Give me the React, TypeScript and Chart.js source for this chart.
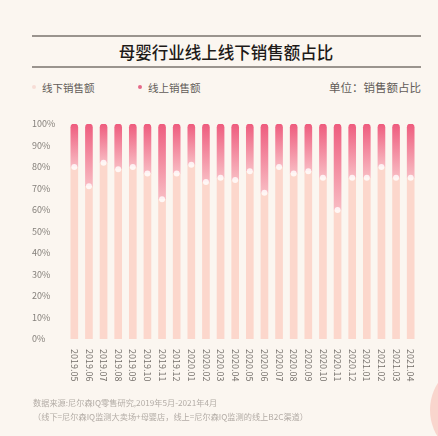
import React, { useEffect, useRef } from "react";
import { Chart, registerables } from "chart.js";

Chart.register(...registerables);

// Months covered by the series
const months = [
  "2019.05", "2019.06", "2019.07", "2019.08", "2019.09", "2019.10",
  "2019.11", "2019.12", "2020.01", "2020.02", "2020.03", "2020.04",
  "2020.05", "2020.06", "2020.07", "2020.08", "2020.09", "2020.10",
  "2020.11", "2020.12", "2021.01", "2021.02", "2021.03", "2021.04",
];

// Offline share of sales (%)
const offlineShare = [
  80, 71, 82, 79, 80, 77, 65, 77, 81, 73, 75, 74,
  78, 68, 80, 77, 78, 75, 60, 75, 75, 80, 75, 75,
];

// Online share of sales (%)
const onlineShare = [
  20, 29, 18, 21, 20, 23, 35, 23, 19, 27, 25, 26,
  22, 32, 20, 23, 22, 25, 40, 25, 25, 20, 25, 25,
];

const yTicks = [0, 10, 20, 30, 40, 50, 60, 70, 80, 90, 100];

const CJK = '"Noto Sans CJK SC", "Noto Sans", sans-serif';

const xLabelPlugin = {
  id: "verticalMonthLabels",
  afterDraw(chart: any) {
    const { ctx, scales } = chart;
    const xs = scales.x;
    ctx.save();
    ctx.fillStyle = "#75706b";
    ctx.font = `9px ${CJK}`;
    ctx.textAlign = "left";
    ctx.textBaseline = "middle";
    months.forEach((m, i) => {
      const x = xs.getPixelForValue(i);
      ctx.save();
      ctx.translate(x, 349);
      ctx.rotate(Math.PI / 2);
      ctx.fillText(m, 0, 0);
      ctx.restore();
    });
    ctx.restore();
  },
};

function ChartCanvas() {
  const ref = useRef<HTMLCanvasElement | null>(null);

  useEffect(() => {
    if (!ref.current) return;
    const chart = new Chart(ref.current, {
      type: "bar",
      data: {
        labels: months,
        datasets: [
          {
            type: "line",
            label: "dots",
            data: offlineShare,
            stack: "dots",
            showLine: false,
            pointRadius: 3,
            pointHoverRadius: 3,
            pointBorderWidth: 0,
            pointBackgroundColor: "rgba(255,255,255,0.8)",
            order: 0,
          } as any,
          {
            label: "线下销售额",
            data: offlineShare,
            stack: "share",
            backgroundColor: "#fcd7cc",
            barThickness: 7,
            borderRadius: 0,
            order: 1,
          },
          {
            label: "线上销售额",
            data: onlineShare,
            stack: "share",
            barThickness: 7,
            borderSkipped: "bottom",
            borderRadius: { topLeft: 3.5, topRight: 3.5, bottomLeft: 0, bottomRight: 0 },
            backgroundColor: (c: any) => {
              const ch = c.chart;
              if (!ch.chartArea || c.dataIndex === undefined) return "#f27592";
              const ys = ch.scales.y;
              const top = ys.getPixelForValue(100);
              const bottom = ys.getPixelForValue(offlineShare[c.dataIndex]);
              const g = ch.ctx.createLinearGradient(0, top, 0, bottom);
              g.addColorStop(0, "#ee5c7e");
              g.addColorStop(1, "#f8bcc3");
              return g;
            },
            order: 1,
          },
        ],
      },
      options: {
        animation: false,
        responsive: false,
        maintainAspectRatio: false,
        layout: { padding: { left: 32, top: 124, right: 20, bottom: 97 } },
        plugins: {
          legend: { display: false },
          tooltip: { enabled: false },
          title: { display: false },
        },
        scales: {
          x: {
            display: false,
            stacked: true,
            offset: true,
          },
          y: {
            stacked: true,
            min: 0,
            max: 100,
            afterFit: (s: any) => {
              s.width = 35;
            },
            afterBuildTicks: (s: any) => {
              s.ticks = yTicks.map((v) => ({ value: v }));
            },
            grid: { display: false },
            border: { display: false },
            ticks: {
              crossAlign: "far",
              color: "#85807b",
              font: { size: 9, family: CJK },
              callback: (v: any) => `${v}%`,
            },
          },
        },
      },
      plugins: [xLabelPlugin],
    });
    return () => chart.destroy();
  }, []);

  return (
    <canvas
      ref={ref}
      width={438}
      height={436}
      style={{ position: "absolute", left: 0, top: 0, width: 438, height: 436 }}
    />
  );
}

export default function App() {
  const rule: React.CSSProperties = {
    position: "absolute",
    left: 32,
    width: 389,
    height: 2,
    background: "#9a948e",
  };
  return (
    <div
      style={{
        position: "fixed",
        left: 0,
        top: 0,
        width: 438,
        height: 436,
        overflow: "hidden",
        background: "#fbf6f0",
        fontFamily: CJK,
      }}
    >
      <div
        style={{
          position: "absolute",
          left: 430,
          top: 360,
          width: 100,
          height: 100,
          borderRadius: "50%",
          background: "#f9d5cd",
        }}
      />
      <div style={{ ...rule, top: 35 }} />
      <div
        style={{
          position: "absolute",
          left: 0,
          width: 452,
          top: 40,
          height: 24,
          lineHeight: "24px",
          textAlign: "center",
          fontSize: 16.5,
          fontWeight: 500,
          color: "#1e1a18",
        }}
      >
        母婴行业线上线下销售额占比
      </div>
      <div style={{ ...rule, top: 66 }} />

      <div style={{ position: "absolute", left: 32, top: 80, height: 14, display: "flex", alignItems: "center", fontSize: 10.5, color: "#625c58" }}>
        <span style={{ width: 4, height: 4, borderRadius: "50%", background: "#f7ddd6", marginRight: 6 }} />
        <span>线下销售额</span>
      </div>
      <div style={{ position: "absolute", left: 138, top: 80, height: 14, display: "flex", alignItems: "center", fontSize: 10.5, color: "#625c58" }}>
        <span style={{ width: 4, height: 4, borderRadius: "50%", background: "#e56a89", marginRight: 6 }} />
        <span>线上销售额</span>
      </div>
      <div style={{ position: "absolute", right: 17, top: 79, height: 16, lineHeight: "16px", fontSize: 11.5, color: "#625c58" }}>
        单位：销售额占比
      </div>

      <ChartCanvas />

      <div style={{ position: "absolute", left: 33, top: 396, fontSize: 8.2, lineHeight: "13.5px", color: "#b3aca6", whiteSpace: "nowrap" }}>
        数据来源:尼尔森IQ零售研究,2019年5月-2021年4月
        <br />
        （线下=尼尔森IQ监测大卖场+母婴店，线上=尼尔森IQ监测的线上B2C渠道）
      </div>
    </div>
  );
}
